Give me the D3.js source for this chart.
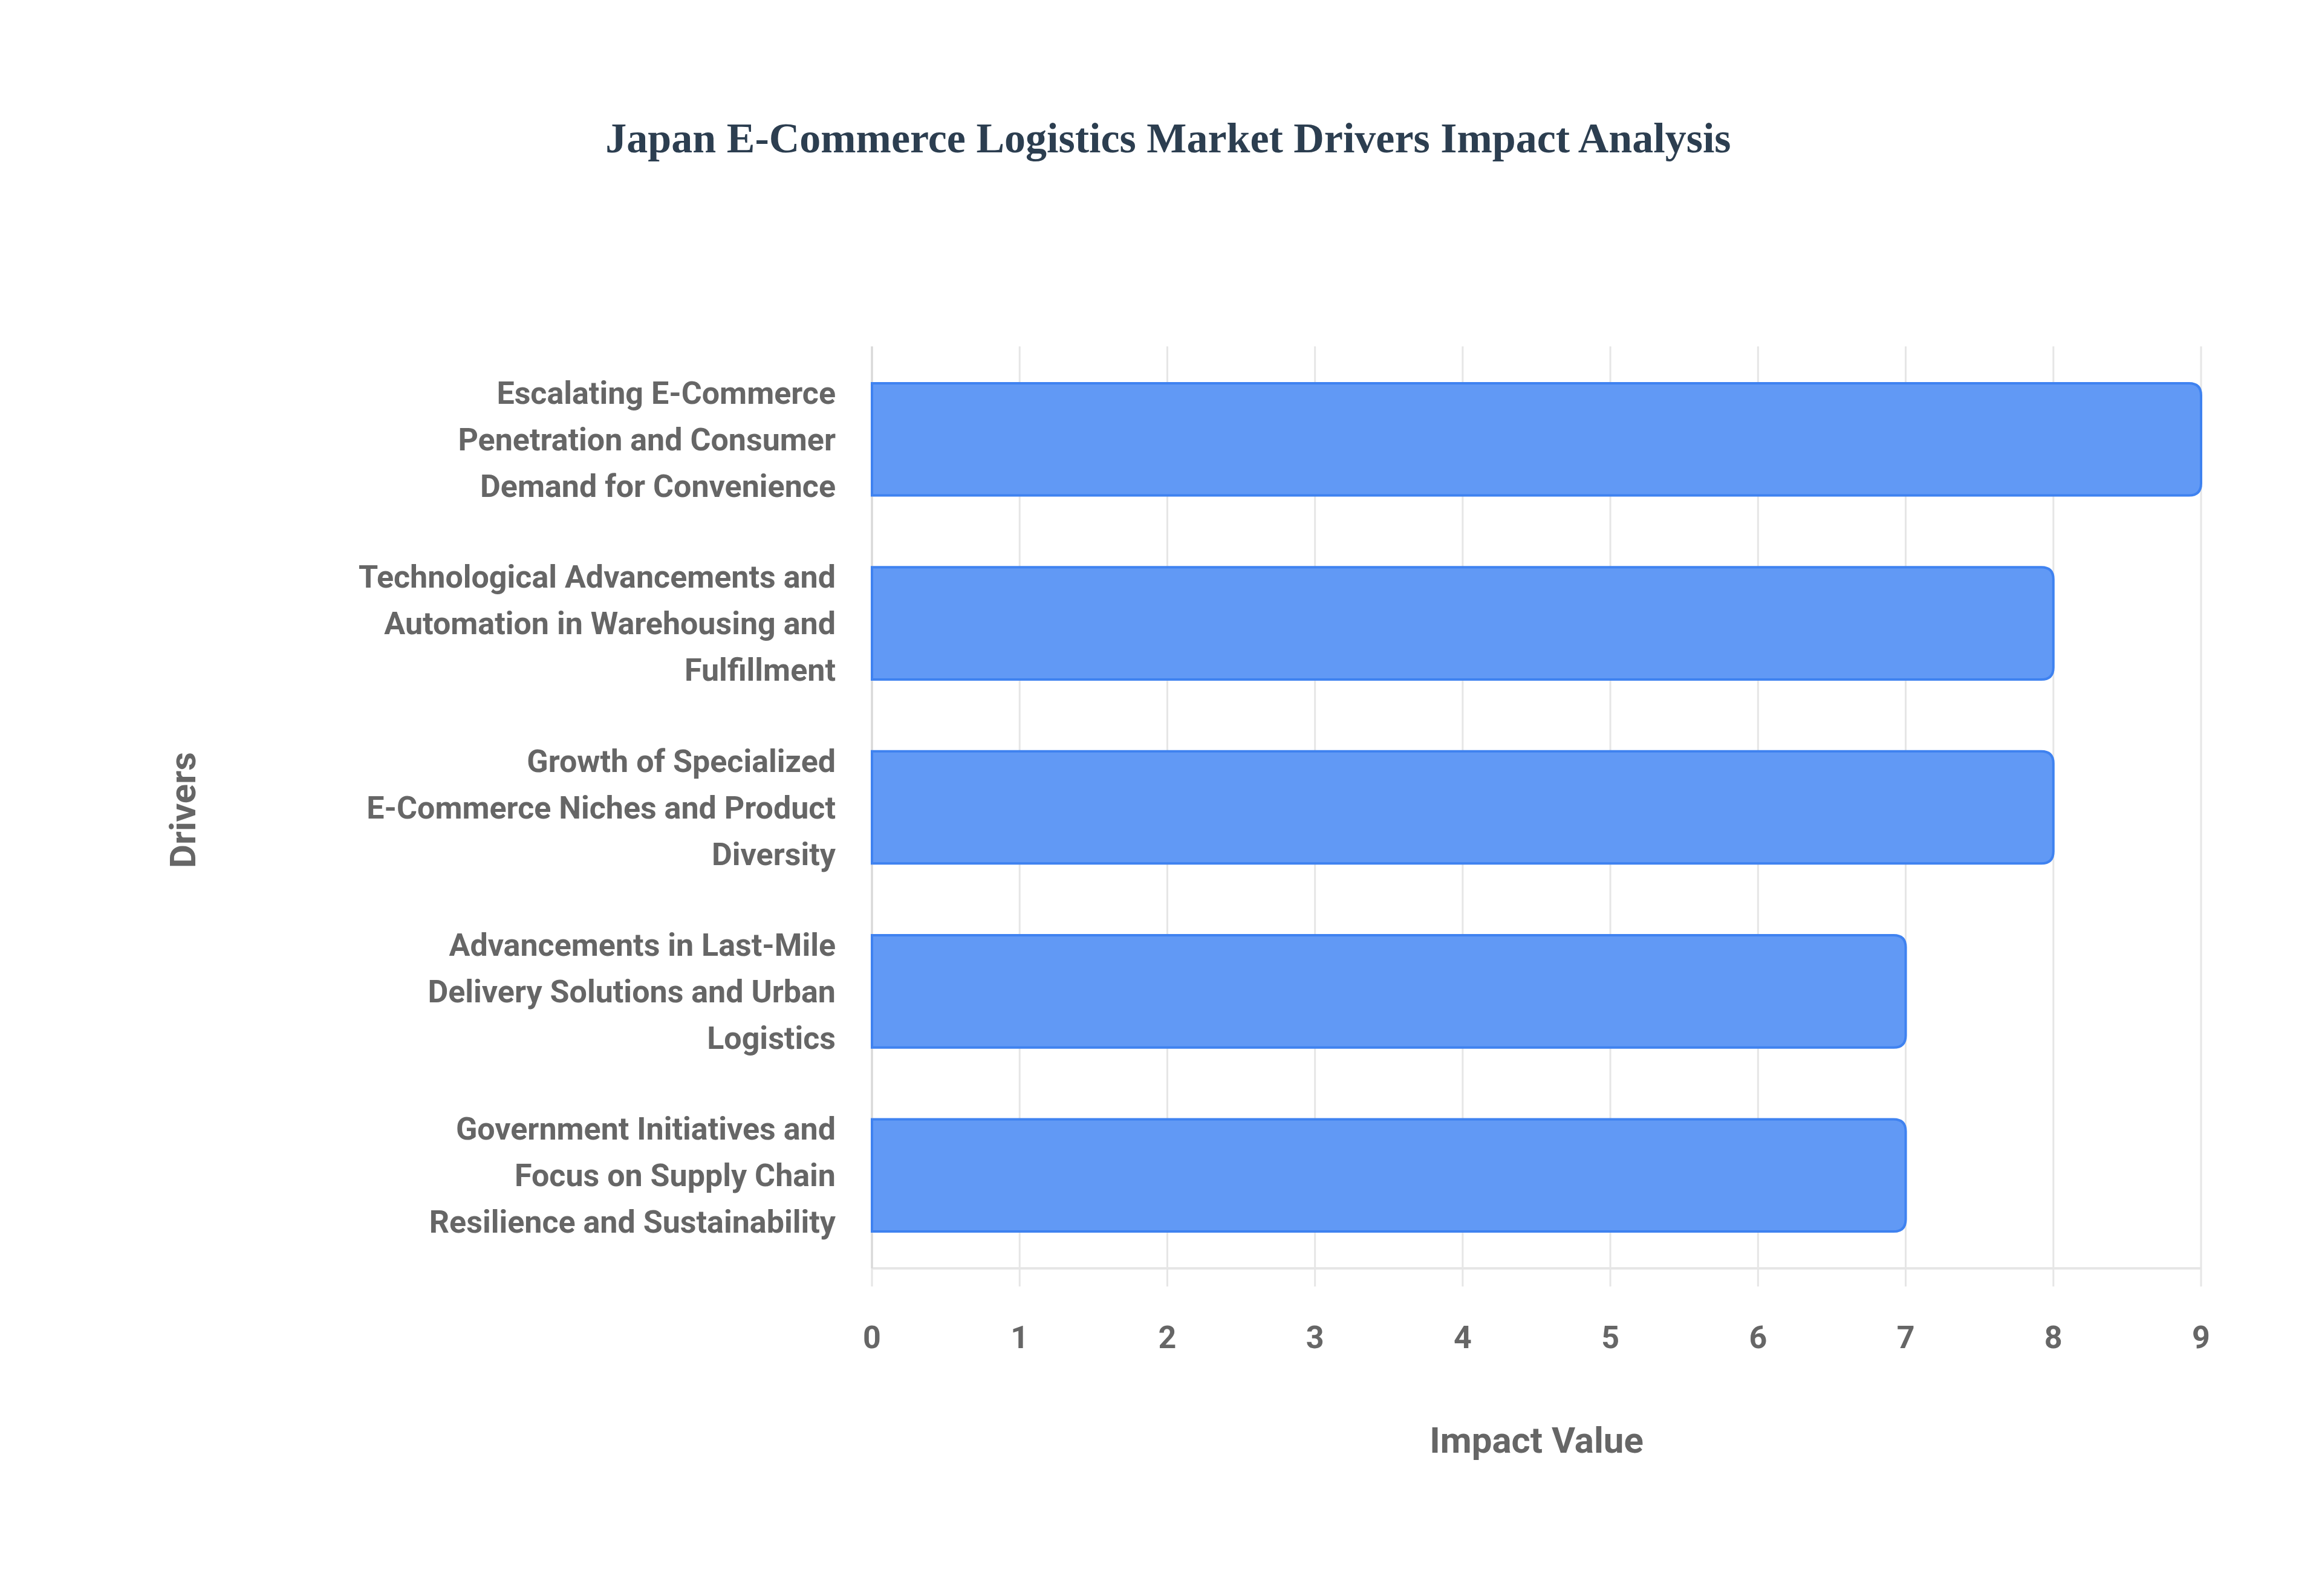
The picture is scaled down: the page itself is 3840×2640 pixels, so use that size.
<!DOCTYPE html><html><head><meta charset="utf-8">
<script src="https://cdn.jsdelivr.net/npm/d3@7"></script>
<style>body{margin:0;background:#fff}</style></head><body>
<svg id="c" width="3840" height="2640"></svg>
<script>
const categories=[
["Escalating E-Commerce","Penetration and Consumer","Demand for Convenience"],
["Technological Advancements and","Automation in Warehousing and","Fulfillment"],
["Growth of Specialized","E-Commerce Niches and Product","Diversity"],
["Advancements in Last-Mile","Delivery Solutions and Urban","Logistics"],
["Government Initiatives and","Focus on Supply Chain","Resilience and Sustainability"]];
const values=[9,8,8,7,7];
const xTicks=[0,1,2,3,4,5,6,7,8,9];
const svg=d3.select("#c");
const L=1442,R=3640,T=573,B=2098;
const x=d3.scaleLinear().domain([0,9]).range([L,R]);
const y=d3.scaleBand().domain(d3.range(categories.length)).range([T,B]).paddingInner(0.39).paddingOuter(0.2);
svg.append("text").attr("x",1932).attr("y",252).attr("text-anchor","middle")
 .attr("font-family","Liberation Serif, Times New Roman, serif").attr("font-weight","bold")
 .attr("font-size",70).attr("fill","#2c3e50").text("Japan E-Commerce Logistics Market Drivers Impact Analysis");
const g=svg.append("g");
xTicks.forEach(t=>{g.append("line").attr("x1",x(t)).attr("x2",x(t)).attr("y1",T).attr("y2",B+30)
 .attr("stroke","#e6e6e6").attr("stroke-width",3);});
g.append("line").attr("x1",L).attr("x2",R).attr("y1",B).attr("y2",B).attr("stroke","#e6e6e6").attr("stroke-width",4);
g.append("line").attr("x1",L).attr("x2",L).attr("y1",T).attr("y2",B).attr("stroke","#d8d8d8").attr("stroke-width",3);
const r=20;
values.forEach((v,i)=>{const y0=y(i),h=y.bandwidth(),x0=x(0),x1=x(v);
 const p=`M${x0},${y0}H${x1-r}Q${x1},${y0} ${x1},${y0+r}V${y0+h-r}Q${x1},${y0+h} ${x1-r},${y0+h}H${x0}Z`;
 g.append("path").attr("d",p).attr("fill","#6199f5").attr("stroke","#3f82f0").attr("stroke-width",4);});
xTicks.forEach(t=>{g.append("text").attr("x",x(t)).attr("y",2230).attr("text-anchor","middle")
 .attr("font-family","Roboto, Arial, sans-serif").attr("font-weight","bold").attr("font-size",52)
 .attr("fill","#666").text(t);});
categories.forEach((lines,i)=>{const cy=y(i)+y.bandwidth()/2;
 lines.forEach((s,j)=>{g.append("text").attr("x",1382).attr("y",cy+(j-(lines.length-1)/2)*77+18)
  .attr("text-anchor","end").attr("font-family","Roboto, Arial, sans-serif").attr("font-weight","bold")
  .attr("font-size",52).attr("fill","#666").text(s);});});
svg.append("text").attr("x",(L+R)/2).attr("y",2403).attr("text-anchor","middle")
 .attr("font-family","Roboto, Arial, sans-serif").attr("font-weight","bold").attr("font-size",60)
 .attr("fill","#666").text("Impact Value");
svg.append("text").attr("transform","translate(323,1340) rotate(-90)").attr("text-anchor","middle")
 .attr("font-family","Roboto, Arial, sans-serif").attr("font-weight","bold").attr("font-size",60)
 .attr("fill","#666").text("Drivers");
</script></body></html>
